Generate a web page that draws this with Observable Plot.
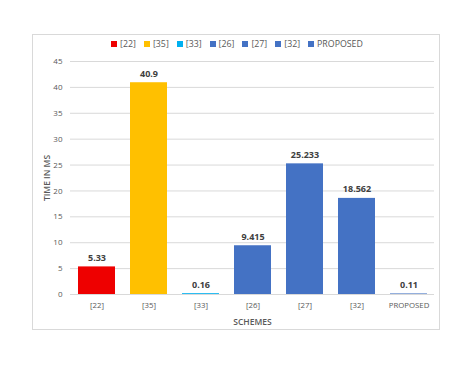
<!DOCTYPE html>
<html>
<head>
<meta charset="utf-8">
<script src="https://cdn.jsdelivr.net/npm/d3@7"></script>
<script src="https://cdn.jsdelivr.net/npm/@observablehq/plot@0.6"></script>
<style>
  body { margin: 0; background: #fff; }
  #wrap { position: relative; width: 474px; height: 366px; background: #fff; font-family: "Open Sans", "Noto Sans", sans-serif; }
  #frame { position: absolute; left: 32px; top: 34px; width: 408px; height: 296px; border: 1px solid #d9d9d9; box-sizing: border-box; }
  #legend { position: absolute; left: 0; width: 474px; top: 38px; text-align: center; font-size: 8.8px; color: #595959; white-space: nowrap; }
  #legend span.item { margin: 0 4px; }
  #legend span.sw { display: inline-block; width: 6px; height: 6px; margin-right: 3px; vertical-align: 0px; }
  #chart { position: absolute; left: 0; top: 0; }
</style>
</head>
<body>
<div id="wrap">
  <div id="frame"></div>
  <div id="legend"></div>
  <div id="chart"></div>
</div>
<script>
const schemes = ["[22]", "[35]", "[33]", "[26]", "[27]", "[32]", "PROPOSED"];
const times = [5.33, 40.9, 0.16, 9.415, 25.233, 18.562, 0.11];
const labels = ["5.33", "40.9", "0.16", "9.415", "25.233", "18.562", "0.11"];
const colors = ["#EE0000", "#FFC000", "#00B0F0", "#4472C4", "#4472C4", "#4472C4", "#4472C4"];
const yTicks = [0, 5, 10, 15, 20, 25, 30, 35, 40, 45];

const data = schemes.map((s, i) => ({scheme: s, time: times[i], label: labels[i]}));

const legend = document.getElementById("legend");
schemes.forEach((s, i) => {
  const it = document.createElement("span");
  it.className = "item";
  const sw = document.createElement("span");
  sw.className = "sw";
  sw.style.background = colors[i];
  it.appendChild(sw);
  it.appendChild(document.createTextNode(s));
  legend.appendChild(it);
});

const chart = Plot.plot({
  width: 474,
  height: 366,
  marginLeft: 70,
  marginRight: 40,
  marginTop: 61,
  marginBottom: 72,
  style: {background: "transparent", fontFamily: "'Open Sans', 'Noto Sans', sans-serif", color: "#595959"},
  x: {domain: schemes, paddingInner: 0.29, paddingOuter: 0.13, label: null},
  y: {domain: [0, 45], ticks: yTicks, label: null},
  color: {domain: schemes, range: colors},
  marks: [
    Plot.gridY(yTicks, {stroke: "#d9d9d9", strokeOpacity: 1}),
    Plot.barY(data, {x: "scheme", y: "time", fill: "scheme"}),
    Plot.text(data, {x: "scheme", y: "time", text: "label", dy: -9, fontWeight: "bold", fontSize: 9, fill: "#404040"}),
    Plot.axisY(yTicks, {tickSize: 0, tickPadding: 8, fontSize: 8, fill: "#595959", label: "TIME IN MS", labelAnchor: "center", labelArrow: "none", labelOffset: 27}),
    Plot.axisX({tickSize: 0, tickPadding: 8, fontSize: 7.8, fill: "#595959", label: "SCHEMES", labelAnchor: "center", labelArrow: "none", labelOffset: 30})
  ]
});
document.getElementById("chart").appendChild(chart);
chart.querySelectorAll("g[aria-label='y-axis label'] text, g[aria-label='x-axis label'] text").forEach(t => {
  t.setAttribute("font-size", "8.5");
  t.setAttribute("font-weight", "600");
});
</script>
</body>
</html>
